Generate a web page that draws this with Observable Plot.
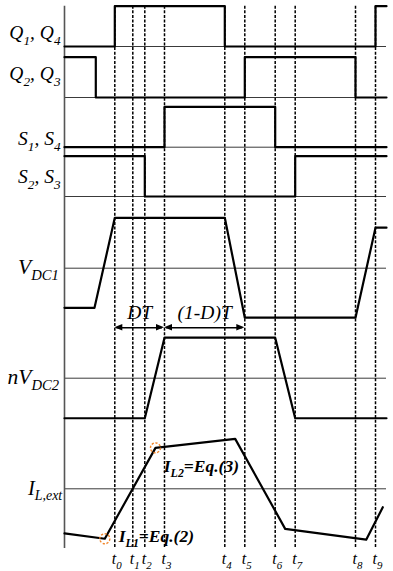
<!DOCTYPE html>
<html>
<head>
<meta charset="utf-8">
<script src="https://cdn.jsdelivr.net/npm/d3@7"></script>
<script src="https://cdn.jsdelivr.net/npm/@observablehq/plot@0.6"></script>
<style>
  html, body { margin: 0; padding: 0; background: #fff; }
  #chart svg { display: block; }
  #chart svg text, #chart svg tspan { font-family: "Liberation Serif", "Times New Roman", serif; }
</style>
</head>
<body>
<div id="chart"></div>
<script>
// ---------------- DATA ----------------
// time instants (arbitrary time units)
const tNames = ["t_{0}", "t_{1}", "t_{2}", "t_{3}", "t_{4}", "t_{5}", "t_{6}", "t_{7}", "t_{8}", "t_{9}"];
const tTimes = [50.3, 68.3, 80.3, 100, 160.3, 180.3, 210.7, 230.7, 291, 311];
const tEnd = 322;

// gate signals: [time, level] (0 = off, 1 = on), step-after
const Q14 = [[0, 0], [50.3, 1], [160.3, 0], [311, 1], [322, 1]];
const Q23 = [[0, 1], [31.3, 0], [180.3, 1], [291, 0], [322, 0]];
const S14 = [[0, 0], [100, 1], [210.7, 0], [322, 0]];
const S23 = [[0, 1], [80.3, 0], [230.7, 1], [322, 1]];

// analog waveforms: [time, value] (normalised, 0 = reference line)
const VDC1 = [[0, -0.88], [30, -0.88], [50.3, 1.12], [160.3, 1.12], [180.3, -1.1], [291, -1.1], [311, 0.9], [322, 0.9]];
const nVDC2 = [[0, -0.89], [80.3, -0.89], [100, 0.9], [210.7, 0.9], [230.7, -0.89], [322, -0.89]];
const IL = [[0, -0.99], [40.3, -1.11], [91, 0.91], [170.7, 1.11], [220.7, -0.89], [301.7, -1.13], [318.3, -0.41]];

// row labels
const logicLabels = ["Q_{1}, Q_{4}", "Q_{2}, Q_{3}", "S_{1}, S_{4}", "S_{2}, S_{3}"];
const analogLabels = ["V_{DC1}", "nV_{DC2}", "I_{L,ext}"];

// duration spans
const spanLabels = ["DT", "(1-D)T"];
const spanFrom = [50.3, 100];
const spanTo = [100, 180.3];

// annotations on the current waveform (index into IL)
const annoText = ["I_{L1}=Eq.(2)", "I_{L2}=Eq.(3)"];
const annoIdx = [1, 2];

// ---------------- LAYOUT ----------------
const W = 393, H = 571;
const logicBase = [46, 97, 146.7, 196];     // low level line of each gate row
const logicAmp = 40.3;
const logicLabelY = [32.5, 73.5, 138.5, 176.5];
const analogZero = [267.7, 377.7, 488.3];   // reference line of each analog row
const analogAmp = 45;
const analogLabelY = [266.5, 376.5, 487.5];
const analogLabelX = [-5.7, -5.5, -2.3];
const analogLabelSize = [21.5, 21.5, 20.5];
const topY = 5.7, bottomY = 548;
const arrowY = 327.3;
const headLen = 8, headHalf = 3.2;

// ---------------- BUILD ----------------
const logicSeries = [Q14, Q23, S14, S23];
const analogSeries = [VDC1, nVDC2, IL];

const logicData = logicSeries.map((s, i) => s.map(([t, v]) => ({t, y: logicBase[i] - v * logicAmp})));
const analogData = analogSeries.map((s, i) => s.map(([t, v]) => ({t, y: analogZero[i] - v * analogAmp})));

const spans = spanLabels.map((label, i) => ({label, x1: spanFrom[i], x2: spanTo[i], xm: (spanFrom[i] + spanTo[i]) / 2}));
const heads = [];
spans.forEach((s, i) => {
  [[s.x1, 1], [s.x2, -1]].forEach(([tip, dir], k) => {
    const id = i * 2 + k;
    heads.push({id, x: tip, y1: arrowY, y2: arrowY});
    heads.push({id, x: tip + dir * headLen, y1: arrowY - headHalf, y2: arrowY + headHalf});
  });
});

const circles = annoIdx.map(k => analogData[2][k]);
const annos = annoText.map((text, i) => ({text}));
const annoPos = [{x: 54.3, y: 536}, {x: 99.3, y: 466}];

const serif = "Liberation Serif";

const marks = [
  // reference lines
  Plot.ruleY([...logicBase, ...analogZero], {x1: 0, x2: tEnd, stroke: "#3a3a3a", strokeWidth: 1}),
  // vertical axis
  Plot.ruleX([0], {y1: topY, y2: bottomY, stroke: "#555", strokeWidth: 1.6}),
  // dashed time markers
  Plot.ruleX(tTimes, {y1: topY, y2: bottomY, stroke: "#000", strokeWidth: 1.5, strokeDasharray: "3,1.6"}),
  // gate waveforms
  ...logicData.map(d => Plot.line(d, {x: "t", y: "y", curve: "step-after", stroke: "#000", strokeWidth: 2.2})),
  // analog waveforms
  ...analogData.map(d => Plot.line(d, {x: "t", y: "y", stroke: "#000", strokeWidth: 2.2})),
  // duration arrows
  Plot.ruleY(spans, {x1: d => d.x1 + 2, x2: d => d.x2 - 2, y: arrowY, stroke: "#000", strokeWidth: 1.6}),
  Plot.areaY(heads, {x: "x", y1: "y1", y2: "y2", z: "id", fill: "#000"}),
  Plot.text(spans, {x: "xm", y: arrowY - 15, text: "label", fontSize: 19.5, fontStyle: "italic", fontFamily: serif, fill: "#000"}),
  // orange markers
  Plot.dot(circles, {x: "t", y: "y", r: 5, stroke: "#f0852a", strokeWidth: 1.4, strokeDasharray: "2.2,1.6", fill: "none"}),
  // annotations
  Plot.text(annos, {x: (d, i) => annoPos[i].x, y: (d, i) => annoPos[i].y, text: "text", textAnchor: "start", fontSize: 17.5, fontWeight: "bold", fontStyle: "italic", fontFamily: serif, fill: "#000"}),
  // row labels
  Plot.text(logicLabels, {x: -4, y: (d, i) => logicLabelY[i], text: d => d, textAnchor: "end", fontSize: 19.5, fontStyle: "italic", fontFamily: serif, fill: "#000"}),
  ...analogLabels.map((lab, i) => Plot.text([lab], {x: analogLabelX[i], y: analogLabelY[i], text: d => d, textAnchor: "end", fontSize: analogLabelSize[i], fontStyle: "italic", fontFamily: serif, fill: "#000"})),
  // time labels
  Plot.text(tNames, {x: (d, i) => tTimes[i], y: 558.5, dx: 2, text: d => d, fontSize: 16, fontStyle: "italic", fontFamily: serif, fill: "#000"})
];

const fig = Plot.plot({
  width: W, height: H,
  margin: 0,
  x: {domain: [0, tEnd], range: [64, 386], axis: null},
  y: {domain: [0, H], range: [0, H], axis: null},
  style: {background: "#fff", overflow: "visible"},
  marks
});

document.getElementById("chart").appendChild(fig);

// convert "_{...}" markup into subscript tspans
const NS = "http://www.w3.org/2000/svg";
fig.querySelectorAll("text").forEach(t => {
  const s = t.textContent;
  if (!s.includes("_{")) return;
  const fs = parseFloat(getComputedStyle(t).fontSize) || 16;
  const sub = fs * 0.68, shift = fs * 0.28;
  const parts = s.split(/(_\{[^}]*\})/).filter(p => p.length);
  t.textContent = "";
  let down = false;
  parts.forEach(p => {
    const ts = document.createElementNS(NS, "tspan");
    if (p.startsWith("_{")) {
      ts.textContent = p.slice(2, -1);
      ts.setAttribute("font-size", sub);
      if (!down) { ts.setAttribute("dy", shift); down = true; }
    } else {
      ts.textContent = p;
      if (down) { ts.setAttribute("dy", -shift); down = false; }
    }
    t.appendChild(ts);
  });
});
</script>
</body>
</html>
